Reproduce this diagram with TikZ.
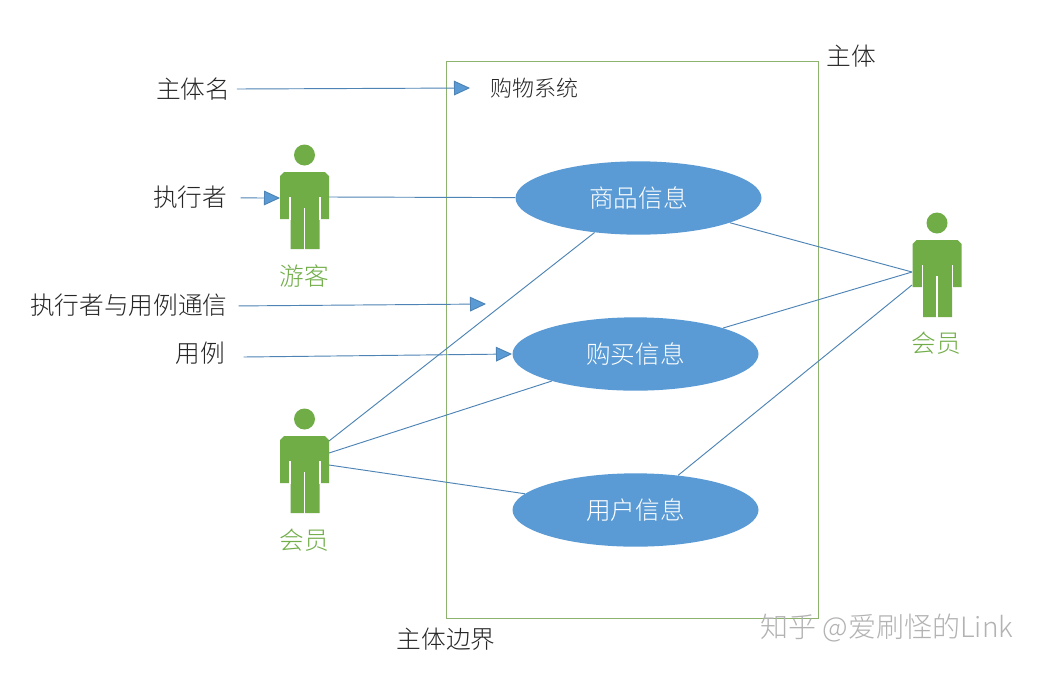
\documentclass[tikz,border=0pt]{standalone}
\usepackage{fontspec}
\setmainfont{Noto Sans CJK SC Light}[BoldFont=Noto Sans CJK SC]
\usetikzlibrary{arrows.meta,shapes.geometric}
\definecolor{umlgreen}{HTML}{70AD47}
\definecolor{umlblue}{HTML}{5B9BD5}
\definecolor{framegreen}{HTML}{8DB36F}
\tikzset{
  x=0.75pt,y=-0.75pt,
  wire/.style={draw=umlblue!85!black,line width=0.7pt},
  pointer/.style={wire,-{Triangle[length=12pt,width=11pt,fill=umlblue]}},
  usecase/.style={ellipse,fill=umlblue,draw=none,minimum width=184.5pt,minimum height=55pt,inner sep=0pt,text=white,font=\fontsize{18.5}{20}\selectfont},
  lab/.style={inner sep=0pt,text=black!85,font=\fontsize{18.5}{20}\selectfont},
  actorlab/.style={inner sep=0pt,text=umlgreen,font=\fontsize{18.5}{20}\selectfont},
  actorbox/.style={inner sep=0pt,minimum width=37pt,minimum height=58pt,draw=none},
  person/.pic={
    \fill[umlgreen] (0,-38) circle[radius=10.5];
    \fill[umlgreen] (-20.5,-21) -- (20.5,-21) -- (24.5,-17) -- (24.5,26) -- (15,26) -- (15,56) -- (-14,56) -- (-14,26) -- (-24.5,26) -- (-24.5,-17) -- cycle;
    \draw[white,line width=0.8pt] (0,15) -- (0,57) (-14.5,4) -- (-14.5,27) (15.5,4) -- (15.5,27);
  }
}
\begin{document}
\begin{tikzpicture}
\useasboundingbox (0,0) rectangle (1061,672);
\fill[white] (0,0) rectangle (1061,672);

\node[draw=framegreen,line width=0.7pt,minimum width=279pt,minimum height=417.75pt,inner sep=0pt] (frame) at (632,339.5) {};

\node[lab] (subjname) at (193,89) {主体名};
\node[lab] (actorname) at (190,197) {执行者};
\node[lab] (commname) at (129,305) {执行者与用例通信};
\node[lab] (casename) at (200,353) {用例};
\node[lab] (subject) at (851,56) {主体};
\node[lab] (boundary) at (446,639) {主体边界};
\node[lab,font=\fontsize{16.5}{18}\selectfont] (system) at (534,88) {购物系统};

\node[usecase] (goods) at (638.5,198) {商品信息};
\node[usecase] (buy) at (635.5,354) {购买信息};
\node[usecase] (user) at (635.5,510) {用户信息};

\node[actorbox] (visitor) at (304.5,193) {};
\pic at (visitor.center) {person};
\node[actorbox] (member) at (304.5,457) {};
\pic at (member.center) {person};
\node[actorbox] (vip) at (937,261) {};
\pic at (vip.center) {person};

\node[actorlab] at (304,276) (visitorlab) {游客};
\node[actorlab] at (304,540) (memberlab) {会员};
\node[actorlab] at (936,343) (viplab) {会员};

\coordinate (t1) at (470,88);
\coordinate (t2) at (486,304);
\coordinate (t3) at (512,354);
\coordinate (p1) at (329,441);
\coordinate (p2) at (329,453);
\coordinate (p3) at (329,465);
\coordinate (q1) at (912,272);
\coordinate (q2) at (912,285);
\coordinate (v1) at (329,197);
\coordinate (v0) at (280,198);

\draw[pointer] ([xshift=5pt]subjname.east) -- (t1);
\draw[pointer] ([xshift=10pt,yshift=-0.7pt]actorname.east) -- (v0);
\draw[pointer] ([xshift=8pt,yshift=-0.7pt]commname.east) -- (t2);
\draw[pointer] ([xshift=14pt,yshift=-3pt]casename.east) -- (t3);

\draw[wire] (v1) -- (goods);
\draw[wire] (p1) -- (goods);
\draw[wire] (p2) -- (buy);
\draw[wire] (p3) -- (user);
\draw[wire] (q1) -- (goods);
\draw[wire] (q1) -- (buy);
\draw[wire] (q2) -- (user);

\node[inner sep=0pt,text=black!30,font=\fontsize{21}{23}\selectfont] (mark) at (887,628) {知乎 @爱刷怪的Link};
\end{tikzpicture}
\end{document}
